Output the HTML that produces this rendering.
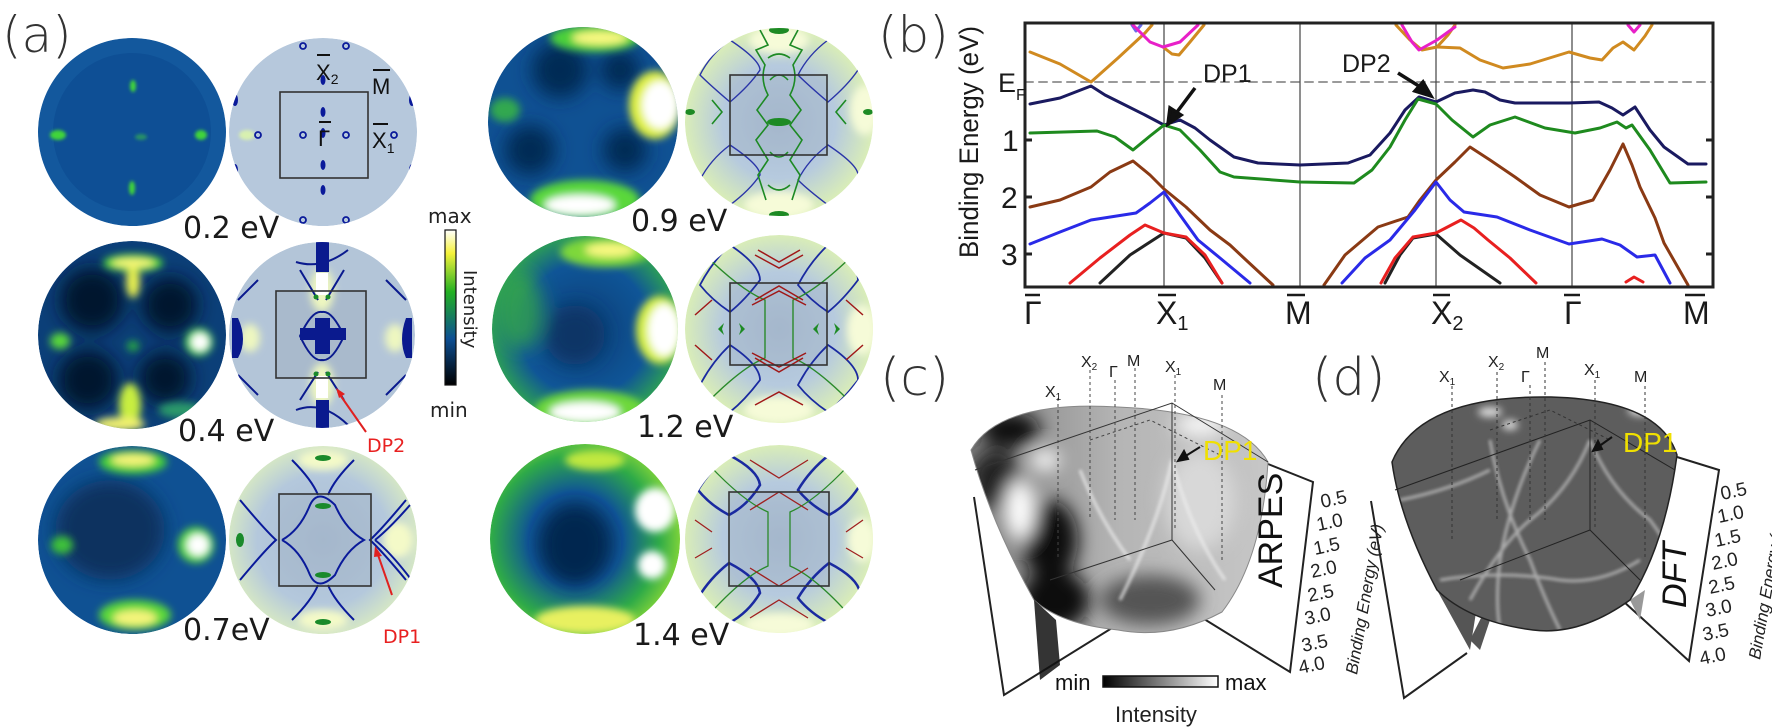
<!DOCTYPE html>
<html><head><meta charset="utf-8"><style>
html,body{margin:0;padding:0;background:#fff;}
svg{display:block;}
.a{font-family:"DejaVu Sans","Liberation Sans",sans-serif;}
.b{font-family:"Liberation Sans",sans-serif;}
</style></head><body>
<svg width="1772" height="728" viewBox="0 0 1772 728" xmlns="http://www.w3.org/2000/svg">
<defs>
<filter id="bl4" x="-50%" y="-50%" width="200%" height="200%"><feGaussianBlur stdDeviation="4"/></filter>
<filter id="bl8" x="-50%" y="-50%" width="200%" height="200%"><feGaussianBlur stdDeviation="9"/></filter>
<filter id="bl2" x="-50%" y="-50%" width="200%" height="200%"><feGaussianBlur stdDeviation="1.5"/></filter>
<radialGradient id="dft" cx="50%" cy="50%" r="50%"><stop offset="0" stop-color="#a9bcd3"/><stop offset="0.7" stop-color="#b4c8dc"/><stop offset="1" stop-color="#d4e6c6"/></radialGradient>
<radialGradient id="dft2" cx="50%" cy="50%" r="50%"><stop offset="0" stop-color="#a9bcd3"/><stop offset="0.6" stop-color="#b6cade"/><stop offset="1" stop-color="#d9edb8"/></radialGradient>
<radialGradient id="arp" cx="50%" cy="50%" r="50%"><stop offset="0" stop-color="#0b3f78"/><stop offset="0.7" stop-color="#0f5597"/><stop offset="1" stop-color="#2a9a5a"/></radialGradient>
<radialGradient id="arp3" cx="45%" cy="50%" r="55%"><stop offset="0" stop-color="#082f5c"/><stop offset="0.45" stop-color="#0f5597"/><stop offset="0.8" stop-color="#2eaa48"/><stop offset="1" stop-color="#7cd23a"/></radialGradient>
<linearGradient id="cbar" x1="0" y1="1" x2="0" y2="0"><stop offset="0" stop-color="#000"/><stop offset="0.3" stop-color="#0d4f93"/><stop offset="0.6" stop-color="#22b022"/><stop offset="0.85" stop-color="#f5f23a"/><stop offset="1" stop-color="#fff"/></linearGradient>
<linearGradient id="gbar" x1="0" y1="0" x2="1" y2="0"><stop offset="0" stop-color="#000"/><stop offset="1" stop-color="#fff"/></linearGradient>
<linearGradient id="arpesg" x1="0" y1="0" x2="1" y2="0"><stop offset="0" stop-color="#7a7a7a"/><stop offset="0.5" stop-color="#b5b5b5"/><stop offset="1" stop-color="#c8c8c8"/></linearGradient>
<clipPath id="c1"><circle cx="132" cy="132" r="94"/></clipPath>
<clipPath id="c2"><circle cx="132" cy="335" r="94"/></clipPath>
<clipPath id="c3"><circle cx="132" cy="540" r="94"/></clipPath>
<clipPath id="d1"><circle cx="323" cy="132" r="94"/></clipPath>
<clipPath id="d2"><circle cx="322" cy="335" r="93"/></clipPath>
<clipPath id="d3"><circle cx="323" cy="540" r="94"/></clipPath>
<clipPath id="e1"><circle cx="583" cy="122" r="95"/></clipPath>
<clipPath id="e2"><circle cx="585" cy="329" r="93"/></clipPath>
<clipPath id="e3"><circle cx="585" cy="539" r="95"/></clipPath>
<clipPath id="f1"><circle cx="779" cy="122" r="94"/></clipPath>
<clipPath id="f2"><circle cx="779" cy="329" r="94"/></clipPath>
<clipPath id="f3"><circle cx="779" cy="539" r="94"/></clipPath>
<clipPath id="cupA"><path d="M971,450 Q1000,400 1118,407 Q1240,412 1268,462 Q1262,560 1222,612 Q1170,640 1118,630 Q1060,624 1034,600 Q990,520 971,450 Z"/></clipPath>
<clipPath id="cupD"><path d="M1392,462 Q1420,395 1551,397 Q1660,400 1677,455 Q1665,545 1630,600 Q1580,636 1533,630 Q1470,622 1437,590 Q1400,520 1392,462 Z"/></clipPath>
</defs>

<!-- ===== Panel (a) ===== -->
<text x="2" y="52" class="a" font-size="50" font-weight="200" fill="#333">(a)</text>

<!-- row1 left -->
<g clip-path="url(#c1)">
<circle cx="132" cy="132" r="94" fill="#0e4f95"/>
<circle cx="132" cy="132" r="94" fill="none" stroke="#1b66ab" stroke-width="30" opacity="0.4"/>
<g filter="url(#bl2)" fill="#3fd43a">
<ellipse cx="58" cy="135" rx="8" ry="5"/><ellipse cx="201" cy="135" rx="6" ry="5"/>
<ellipse cx="133" cy="86" rx="3" ry="6"/><ellipse cx="132" cy="188" rx="3" ry="7"/>
<ellipse cx="141" cy="137" rx="6" ry="3" opacity="0.5"/></g>
</g>
<!-- row2 left -->
<g clip-path="url(#c2)">
<circle cx="132" cy="335" r="94" fill="#0b3f78"/>
<g filter="url(#bl8)" fill="#03162e"><circle cx="92" cy="300" r="32"/><circle cx="170" cy="305" r="28"/><circle cx="88" cy="380" r="30"/><circle cx="165" cy="378" r="26"/></g>
<g filter="url(#bl4)">
<ellipse cx="133" cy="263" rx="30" ry="9" fill="#48d83a"/><ellipse cx="133" cy="263" rx="22" ry="5" fill="#f6f47a"/>
<ellipse cx="133" cy="282" rx="7" ry="16" fill="#e8f050"/>
<circle cx="199" cy="342" r="14" fill="#4cd63a"/><circle cx="200" cy="342" r="9" fill="#fff"/>
<ellipse cx="60" cy="341" rx="10" ry="8" fill="#5ad83a"/>
<ellipse cx="130" cy="405" rx="11" ry="22" fill="#c8ee40"/><ellipse cx="120" cy="424" rx="25" ry="7" fill="#f0f070"/>
<ellipse cx="180" cy="410" rx="22" ry="8" fill="#2c9a6a"/>
<ellipse cx="133" cy="346" rx="6" ry="5" fill="#2ab040"/></g>
</g>
<!-- row3 left -->
<g clip-path="url(#c3)">
<circle cx="132" cy="540" r="94" fill="#0f5193"/>
<g filter="url(#bl8)"><ellipse cx="110" cy="530" rx="55" ry="50" fill="#07305e"/></g>
<g filter="url(#bl4)">
<ellipse cx="133" cy="462" rx="34" ry="12" fill="#44d03a"/><ellipse cx="133" cy="460" rx="22" ry="6" fill="#f6f47a"/>
<circle cx="196" cy="545" r="18" fill="#5ad83a"/><circle cx="198" cy="545" r="11" fill="#fff"/>
<ellipse cx="135" cy="615" rx="36" ry="15" fill="#5ad83a"/><ellipse cx="135" cy="618" rx="22" ry="8" fill="#f4f47a"/>
<ellipse cx="62" cy="545" rx="11" ry="9" fill="#3cc03a"/></g>
</g>

<!-- DFT circles col 2 -->
<g clip-path="url(#d1)">
<circle cx="323" cy="132" r="94" fill="#b6c8dc"/>
<ellipse cx="247" cy="135" rx="8" ry="5" fill="#d8f0b0" filter="url(#bl2)"/>
<rect x="280" y="92" width="88" height="86" fill="none" stroke="#333" stroke-width="1.6"/>
<g fill="#0a1a9a"><ellipse cx="323" cy="112" rx="2.5" ry="5"/><ellipse cx="323" cy="133" rx="2.5" ry="5"/><ellipse cx="323" cy="165" rx="2.5" ry="5"/><ellipse cx="323" cy="190" rx="2.5" ry="5"/><ellipse cx="323" cy="80" rx="2.5" ry="5"/>
<ellipse cx="235" cy="100" rx="3" ry="6"/><ellipse cx="235" cy="170" rx="3" ry="6"/><ellipse cx="412" cy="100" rx="3" ry="6"/><ellipse cx="412" cy="170" rx="3" ry="6"/></g>
<g fill="none" stroke="#0a1a9a" stroke-width="1.8"><circle cx="303" cy="135" r="3"/><circle cx="346" cy="135" r="3"/><circle cx="258" cy="135" r="3"/><circle cx="394" cy="135" r="3"/><circle cx="303" cy="46" r="3"/><circle cx="346" cy="46" r="3"/><circle cx="303" cy="220" r="3"/><circle cx="346" cy="220" r="3"/></g>
</g>
<g class="b" font-family="Liberation Serif,serif" fill="#111">
<text x="316" y="80" font-size="22">X<tspan font-size="14" dy="4">2</tspan></text><line x1="317" y1="55" x2="330" y2="55" stroke="#111" stroke-width="2"/>
<text x="372" y="94" font-size="22">M</text><line x1="373" y1="70" x2="390" y2="70" stroke="#111" stroke-width="2"/>
<text x="318" y="146" font-size="22">Γ</text><line x1="319" y1="122" x2="331" y2="122" stroke="#111" stroke-width="2"/>
<text x="372" y="148" font-size="22">X<tspan font-size="14" dy="5">1</tspan></text><line x1="373" y1="124" x2="388" y2="124" stroke="#111" stroke-width="2"/>
</g>

<g clip-path="url(#d2)">
<circle cx="322" cy="335" r="93" fill="#b3c5d8"/>
<rect x="276" y="291" width="90" height="87" fill="#9fb0c0" opacity="0.5"/>
<g filter="url(#bl4)" fill="#eef7c0"><ellipse cx="322" cy="290" rx="12" ry="22"/><ellipse cx="322" cy="385" rx="12" ry="22"/><ellipse cx="250" cy="338" rx="10" ry="14"/><ellipse cx="395" cy="338" rx="10" ry="14"/></g>
<g fill="#fff"><rect x="316" y="273" width="12" height="22"/><rect x="316" y="376" width="12" height="22"/></g>
<g fill="#0a1a8e"><rect x="316" y="240" width="13" height="32"/><rect x="316" y="400" width="13" height="40"/>
<rect x="315" y="318" width="15" height="36"/><rect x="300" y="328" width="46" height="12"/>
<path d="M238,318 Q248,340 238,358 L232,358 L232,318 Z"/><path d="M406,318 Q398,340 406,358 L412,358 L412,318 Z"/></g>
<g fill="none" stroke="#0a1a8e" stroke-width="2">
<path d="M300,336 Q312,310 322,312 Q332,310 344,336 Q332,362 322,360 Q312,362 300,336 Z"/>
<path d="M300,270 L318,300 M344,270 L326,300 M300,400 L318,372 M344,400 L326,372"/>
<path d="M296,262 Q322,270 348,250 M296,410 Q322,400 348,425"/>
<path d="M238,300 L258,280 M238,375 L258,395 M406,300 L386,280 M406,375 L386,395"/></g>
<g fill="#1a8a2a"><circle cx="316" cy="297" r="2.5"/><circle cx="328" cy="297" r="2.5"/><circle cx="316" cy="374" r="2.5"/><circle cx="328" cy="374" r="2.5"/></g>
<rect x="276" y="291" width="90" height="87" fill="none" stroke="#333" stroke-width="1.6"/>
</g>
<line x1="338" y1="392" x2="366" y2="432" stroke="#e02020" stroke-width="2"/><path d="M336,388 L345,394 L339,398 Z" fill="#e02020"/>
<text x="367" y="452" class="a" font-size="19" fill="#e82020">DP2</text>

<g clip-path="url(#d3)">
<circle cx="323" cy="540" r="94" fill="url(#dft)"/>
<g filter="url(#bl4)" fill="#f4fac8"><ellipse cx="323" cy="460" rx="25" ry="10"/><ellipse cx="323" cy="620" rx="25" ry="10"/><ellipse cx="398" cy="540" rx="15" ry="18"/></g>
<rect x="279" y="494" width="92" height="92" fill="#9fb0c0" opacity="0.35"/>
<g fill="none" stroke="#0a1a9a" stroke-width="2">
<path d="M282,540 Q300,530 310,505 Q318,488 335,505 Q346,530 364,540 Q346,550 335,575 Q318,592 310,575 Q300,550 282,540"/>
<path d="M292,460 Q312,480 318,495 M354,460 Q334,480 328,495 M292,620 Q312,600 318,585 M354,620 Q334,600 328,585"/>
<path d="M240,500 Q265,530 276,540 Q265,550 240,580 M406,500 Q381,530 370,540 Q381,550 406,580"/>
<path d="M375,540 Q390,528 410,505 M375,540 Q390,552 410,578"/></g>
<g fill="#1a8a2a"><ellipse cx="323" cy="506" rx="8" ry="3"/><ellipse cx="323" cy="575" rx="8" ry="3"/><ellipse cx="323" cy="458" rx="8" ry="3"/><ellipse cx="323" cy="622" rx="8" ry="3"/><ellipse cx="240" cy="540" rx="4" ry="7"/></g>
<rect x="279" y="494" width="92" height="92" fill="none" stroke="#333" stroke-width="1.6"/>
</g>
<line x1="377" y1="552" x2="392" y2="595" stroke="#e02020" stroke-width="2"/><path d="M375,546 L382,556 L374,557 Z" fill="#e02020"/>
<text x="383" y="643" class="a" font-size="19" fill="#e82020">DP1</text>

<!-- labels -->
<g class="a" font-size="30" fill="#1a1a1a">
<text x="183" y="238">0.2 eV</text>
<text x="178" y="441">0.4 eV</text>
<text x="183" y="640">0.7eV</text>
<text x="631" y="231">0.9 eV</text>
<text x="637" y="437">1.2 eV</text>
<text x="633" y="645">1.4 eV</text>
</g>

<!-- colorbar -->
<rect x="445" y="230" width="11" height="155" fill="url(#cbar)" stroke="#111" stroke-width="1.2"/>
<text x="428" y="223" class="a" font-size="20" fill="#222">max</text>
<text x="430" y="417" class="a" font-size="20" fill="#222">min</text>
<text transform="translate(464,270) rotate(90)" class="a" font-size="18" fill="#222">Intensity</text>

<!-- col3 ARPES -->
<g clip-path="url(#e1)">
<circle cx="583" cy="122" r="95" fill="#0f5193"/>
<g filter="url(#bl8)" fill="#062a55"><circle cx="560" cy="70" r="28"/><circle cx="530" cy="150" r="25"/><circle cx="625" cy="150" r="22"/><circle cx="620" cy="70" r="20"/></g>
<g filter="url(#bl4)">
<ellipse cx="595" cy="38" rx="45" ry="14" fill="#4cd03a"/><ellipse cx="600" cy="38" rx="28" ry="7" fill="#f8f880"/>
<ellipse cx="655" cy="105" rx="26" ry="34" fill="#e0f040"/><ellipse cx="660" cy="105" rx="18" ry="24" fill="#fff"/>
<ellipse cx="585" cy="200" rx="55" ry="20" fill="#5ad83a"/><ellipse cx="580" cy="205" rx="35" ry="10" fill="#fff"/>
<ellipse cx="505" cy="110" rx="15" ry="12" fill="#30a850"/></g>
</g>
<g clip-path="url(#e2)">
<circle cx="585" cy="329" r="93" fill="url(#arp)"/>
<g filter="url(#bl8)"><circle cx="575" cy="335" r="30" fill="#083566"/><ellipse cx="520" cy="310" rx="22" ry="40" fill="#38b040" opacity="0.7"/></g>
<g filter="url(#bl4)">
<ellipse cx="605" cy="252" rx="45" ry="15" fill="#7ed83a"/><ellipse cx="610" cy="250" rx="25" ry="7" fill="#f8f880"/>
<ellipse cx="660" cy="330" rx="24" ry="34" fill="#d8f040"/><ellipse cx="664" cy="330" rx="16" ry="26" fill="#fff"/>
<ellipse cx="590" cy="410" rx="55" ry="20" fill="#6ed83a"/><ellipse cx="585" cy="412" rx="35" ry="10" fill="#fff"/></g>
</g>
<g clip-path="url(#e3)">
<circle cx="585" cy="539" r="95" fill="url(#arp3)"/>
<g filter="url(#bl8)"><ellipse cx="575" cy="545" rx="35" ry="40" fill="#06284f"/></g>
<g filter="url(#bl4)">
<ellipse cx="655" cy="510" rx="20" ry="22" fill="#fff"/><ellipse cx="652" cy="565" rx="14" ry="14" fill="#fff"/>
<ellipse cx="585" cy="620" rx="50" ry="14" fill="#e8f060"/><ellipse cx="595" cy="460" rx="30" ry="10" fill="#c0e840"/></g>
</g>

<!-- col4 DFT -->
<g clip-path="url(#f1)">
<circle cx="779" cy="122" r="94" fill="url(#dft2)"/>
<g filter="url(#bl4)" fill="#f6fbd8"><ellipse cx="779" cy="40" rx="30" ry="14"/><ellipse cx="779" cy="205" rx="35" ry="14"/><ellipse cx="865" cy="110" rx="15" ry="25"/></g>
<rect x="730" y="75" width="97" height="80" fill="#9fb0c0" opacity="0.35"/>
<g fill="none" stroke="#2a35a8" stroke-width="1.4">
<path d="M730,40 Q760,60 760,70 Q750,85 730,102 Q710,85 700,75 Q710,55 730,40 Z"/>
<path d="M828,40 Q858,60 858,70 Q848,85 828,102 Q808,85 798,75 Q808,55 828,40 Z"/>
<path d="M730,145 Q760,165 760,175 Q750,190 730,205 Q710,190 700,180 Q710,160 730,145 Z"/>
<path d="M828,145 Q858,165 858,175 Q848,190 828,205 Q808,190 798,180 Q808,160 828,145 Z"/>
</g>
<g fill="none" stroke="#1d8a24" stroke-width="1.6">
<path d="M760,30 L768,45 L756,50 L765,65 Q760,80 768,95 L757,110 L768,125 L756,140 L768,160 L758,175 L766,200"/>
<path d="M798,30 L790,45 L802,50 L793,65 Q798,80 790,95 L801,110 L790,125 L802,140 L790,160 L800,175 L792,200"/>
<path d="M712,100 L722,112 L712,124 M846,100 L836,112 L846,124 M770,80 Q779,70 788,80 M770,152 Q779,162 788,152 M768,58 Q779,50 790,58 M768,185 Q779,195 790,185"/>
</g>
<g fill="#1d8a24"><ellipse cx="779" cy="122" rx="12" ry="4"/><ellipse cx="779" cy="30" rx="10" ry="4"/><ellipse cx="779" cy="215" rx="10" ry="4"/><ellipse cx="690" cy="112" rx="5" ry="3"/><ellipse cx="868" cy="112" rx="5" ry="3"/></g>
<rect x="730" y="75" width="97" height="80" fill="none" stroke="#333" stroke-width="1.6"/>
</g>
<g clip-path="url(#f2)">
<circle cx="779" cy="329" r="94" fill="url(#dft2)"/>
<g filter="url(#bl4)" fill="#f6fbd8"><ellipse cx="779" cy="410" rx="35" ry="14"/><ellipse cx="862" cy="330" rx="15" ry="25"/></g>
<rect x="730" y="283" width="97" height="82" fill="#9fb0c0" opacity="0.35"/>
<g fill="none" stroke="#1a2aa0" stroke-width="1.8">
<path d="M730,245 Q760,265 760,280 Q745,300 730,312 Q712,300 700,285 Q712,262 730,245 Z"/>
<path d="M828,245 Q858,265 858,280 Q843,300 828,312 Q810,300 798,285 Q810,262 828,245 Z"/>
<path d="M730,345 Q760,365 760,380 Q745,400 730,412 Q712,400 700,385 Q712,362 730,345 Z"/>
<path d="M828,345 Q858,365 858,380 Q843,400 828,412 Q810,400 798,385 Q810,362 828,345 Z"/></g>
<g fill="none" stroke="#2a8a2a" stroke-width="1.4">
<path d="M700,250 Q740,290 765,300 Q765,329 765,358 Q740,368 700,410"/>
<path d="M858,250 Q818,290 793,300 Q793,329 793,358 Q818,368 858,410"/></g>
<g fill="none" stroke="#a01818" stroke-width="1.5">
<path d="M755,255 L779,268 L803,255 M758,250 L779,262 L800,250"/>
<path d="M755,300 L779,286 L803,300 M752,305 L779,291 L806,305"/>
<path d="M755,358 L779,372 L803,358 M752,353 L779,367 L806,353"/>
<path d="M755,405 L779,392 L803,405"/>
<path d="M695,315 L712,300 M695,345 L712,360 M863,315 L846,300 M863,345 L846,360"/></g>
<g fill="#1d8a24"><path d="M745,329 l-6,-6 l2,6 l-2,6 Z"/><path d="M813,329 l6,-6 l-2,6 l2,6 Z"/><path d="M718,329 l6,-6 l-2,6 l2,6 Z"/><path d="M840,329 l-6,-6 l2,6 l-2,6 Z"/></g>
<rect x="730" y="283" width="97" height="82" fill="none" stroke="#333" stroke-width="1.6"/>
</g>
<g clip-path="url(#f3)">
<circle cx="779" cy="539" r="94" fill="url(#dft2)"/>
<g filter="url(#bl4)" fill="#f6fbd8"><ellipse cx="779" cy="625" rx="35" ry="12"/><ellipse cx="862" cy="540" rx="14" ry="22"/></g>
<rect x="729" y="492" width="100" height="94" fill="#9fb0c0" opacity="0.35"/>
<g fill="none" stroke="#1a2aa0" stroke-width="2.6">
<path d="M729,455 Q758,470 760,485 Q748,505 729,515 Q710,505 698,490 Q710,470 729,455 Z"/>
<path d="M829,455 Q858,470 860,485 Q848,505 829,515 Q810,505 798,490 Q810,470 829,455 Z"/>
<path d="M729,563 Q758,578 760,593 Q748,613 729,623 Q710,613 698,598 Q710,578 729,563 Z"/>
<path d="M829,563 Q858,578 860,593 Q848,613 829,623 Q810,613 798,598 Q810,578 829,563 Z"/></g>
<g fill="none" stroke="#2a8a2a" stroke-width="1.3">
<path d="M700,455 Q740,500 768,512 Q768,539 768,566 Q740,578 700,625"/>
<path d="M858,455 Q818,500 790,512 Q790,539 790,566 Q818,578 858,625"/></g>
<g fill="none" stroke="#a02020" stroke-width="1.3">
<path d="M750,460 L779,478 L808,460 M750,510 L779,492 L808,510 M750,568 L779,586 L808,568 M750,618 L779,600 L808,618"/>
<path d="M695,520 L712,532 M695,558 L712,548 M863,520 L846,532 M863,558 L846,548"/></g>
<rect x="729" y="492" width="100" height="94" fill="none" stroke="#333" stroke-width="1.6"/>
</g>

<!-- ===== Panel (b) ===== -->
<text x="878" y="52" class="a" font-size="50" font-weight="200" fill="#333">(b)</text>
<g fill="none" stroke-linejoin="round" stroke-linecap="round">
<line x1="1025" y1="82" x2="1713" y2="82" stroke="#9a9a9a" stroke-width="2" stroke-dasharray="8,6"/>
<g stroke="#444" stroke-width="1.2"><line x1="1164" y1="23" x2="1164" y2="287"/><line x1="1300" y1="23" x2="1300" y2="287"/><line x1="1436" y1="23" x2="1436" y2="287"/><line x1="1572" y1="23" x2="1572" y2="287"/></g>
<g stroke-width="3">
<polyline stroke="#6a6ae8" points="1132,25 1136,31 1141,25"/>
<polyline stroke="#d08a20" points="1030,52 1060,64 1091,82 1118,58 1145,33 1152,25"/>
<polyline stroke="#d08a20" points="1163,47 1172,54 1179,55 1190,42 1204,25"/>
<polyline stroke="#d08a20" points="1396,25 1410,40 1422,50 1437,47 1448,35 1455,25"/>
<polyline stroke="#d08a20" points="1437,47 1460,48 1480,60 1503,68 1530,64 1569,52 1590,58 1602,60 1613,48 1623,42 1634,50 1645,36 1652,25"/>
<polyline stroke="#e820c8" points="1133,25 1150,42 1163,47 1180,42 1198,25"/>
<polyline stroke="#e820c8" points="1402,25 1412,42 1419,50 1437,40 1455,27"/>
<polyline stroke="#e820c8" points="1628,25 1634,32 1640,25"/>
<polyline stroke="#1a1a60" points="1030,104 1060,98 1091,86 1105,95 1121,103 1145,115 1164,125 1180,120 1195,128 1210,140 1234,157 1258,163 1300,165 1348,163 1370,155 1390,133 1405,110 1419,97 1436,102 1455,93 1473,90 1485,92 1500,100 1515,103 1569,103 1599,102 1612,108 1623,115 1635,107 1650,130 1664,147 1688,164 1706,164"/>
<polyline stroke="#1e8a1e" points="1030,133 1097,131 1115,137 1133,150 1150,136 1164,125 1180,130 1200,150 1220,172 1234,177 1300,182 1354,183 1372,170 1390,147 1405,120 1418,99 1436,104 1452,120 1473,137 1490,125 1515,117 1545,128 1575,133 1600,128 1617,122 1626,128 1632,125 1650,150 1670,183 1706,182"/>
<polyline stroke="#8a3a14" points="1030,207 1060,200 1091,187 1110,172 1133,161 1150,175 1164,189 1186,207 1210,230 1230,245 1246,260 1273,285"/>
<polyline stroke="#8a3a14" points="1324,285 1345,255 1378,227 1408,217 1420,200 1436,180 1455,162 1470,147 1490,160 1515,177 1540,195 1569,207 1593,200 1610,170 1623,144 1632,165 1640,187 1655,218 1664,243 1688,285"/>
<polyline stroke="#2a2ae8" points="1030,244 1060,232 1091,220 1136,213 1150,203 1164,192 1180,215 1198,240 1220,258 1250,283"/>
<polyline stroke="#2a2ae8" points="1342,283 1365,258 1390,240 1415,210 1436,182 1450,200 1464,212 1497,217 1530,230 1569,244 1602,239 1620,245 1637,257 1655,255 1670,283"/>
<polyline stroke="#222" points="1100,283 1130,255 1164,233 1186,238 1205,258 1222,283"/>
<polyline stroke="#222" points="1385,283 1400,255 1413,238 1436,234 1460,255 1500,283"/>
<polyline stroke="#e82020" points="1070,283 1100,258 1130,235 1145,225 1164,233 1186,237 1205,255 1222,283"/>
<polyline stroke="#e82020" points="1381,283 1395,258 1413,237 1436,233 1461,220 1474,228 1488,240 1510,258 1536,283"/>
<polyline stroke="#e82020" points="1626,282 1634,277 1643,282"/>
</g>
</g>
<rect x="1025" y="23" width="688" height="264" fill="none" stroke="#222" stroke-width="3"/>
<g stroke="#222" stroke-width="3"><line x1="1025" y1="140" x2="1032" y2="140"/><line x1="1025" y1="197" x2="1032" y2="197"/><line x1="1025" y1="254" x2="1032" y2="254"/><line x1="1706" y1="140" x2="1713" y2="140"/><line x1="1706" y1="197" x2="1713" y2="197"/><line x1="1706" y1="254" x2="1713" y2="254"/></g>
<g class="b" fill="#1a1a1a">
<text x="998" y="92" font-size="27">E<tspan font-size="16" dy="8">F</tspan></text>
<text x="1002" y="151" font-size="30">1</text>
<text x="1001" y="208" font-size="30">2</text>
<text x="1001" y="265" font-size="30">3</text>
<text transform="translate(978,258) rotate(-90)" font-size="27" textLength="232" lengthAdjust="spacingAndGlyphs">Binding Energy (eV)</text>
<text x="1203" y="82" font-size="25">DP1</text>
<text x="1342" y="72" font-size="25">DP2</text>
<text x="1024" y="324" font-size="32">Γ</text>
<text x="1156" y="324" font-size="32">X<tspan font-size="20" dy="6">1</tspan></text>
<text x="1285" y="324" font-size="32">M</text>
<text x="1431" y="324" font-size="32">X<tspan font-size="20" dy="6">2</tspan></text>
<text x="1564" y="324" font-size="32">Γ</text>
<text x="1683" y="324" font-size="32">M</text>
</g>
<g stroke="#1a1a1a" stroke-width="2.5"><line x1="1025" y1="295" x2="1040" y2="295"/><line x1="1158" y1="295" x2="1176" y2="295"/><line x1="1287" y1="295" x2="1305" y2="295"/><line x1="1433" y1="295" x2="1450" y2="295"/><line x1="1564" y1="295" x2="1580" y2="295"/><line x1="1685" y1="295" x2="1705" y2="295"/></g>
<g stroke="#111" stroke-width="3.5" fill="#111"><line x1="1195" y1="88" x2="1174" y2="116"/><path d="M1168,124 L1170,108 L1181,115 Z"/><line x1="1398" y1="73" x2="1422" y2="88"/><path d="M1431,96 L1415,91 L1423,82 Z"/></g>

<!-- ===== Panel (c) ===== -->
<text x="880" y="395" class="a" font-size="52" font-weight="200" fill="#333">(c)</text>
<g fill="none" stroke="#222" stroke-width="2">
<path d="M974,497 L1004,695 L1112,628"/>
<path d="M1268,464 L1313,482 L1290,672 L1196,614"/></g>
<g clip-path="url(#cupA)">
<rect x="960" y="395" width="320" height="245" fill="url(#arpesg)"/>
<g filter="url(#bl8)">
<ellipse cx="1010" cy="430" rx="30" ry="18" fill="#111"/><ellipse cx="995" cy="480" rx="25" ry="30" fill="#222"/>
<ellipse cx="1050" cy="540" rx="28" ry="40" fill="#0a0a0a"/><ellipse cx="1055" cy="600" rx="35" ry="30" fill="#111"/>
<ellipse cx="1020" cy="510" rx="15" ry="30" fill="#fff"/><ellipse cx="1045" cy="460" rx="15" ry="10" fill="#fff"/>
<ellipse cx="1200" cy="425" rx="25" ry="10" fill="#fff"/><ellipse cx="1150" cy="600" rx="50" ry="25" fill="#555"/>
<ellipse cx="1200" cy="500" rx="35" ry="50" fill="#d8d8d8"/></g>
<g fill="none" stroke="#eee" stroke-width="3" opacity="0.8" filter="url(#bl2)"><path d="M1172,460 Q1160,520 1120,600 M1172,460 Q1190,530 1225,580 M1080,470 Q1100,520 1130,560"/></g>
</g>
<path d="M971,450 Q1000,400 1118,407 Q1240,412 1268,462 Q1262,560 1222,612 Q1170,640 1118,630 Q1060,624 1034,600 Q990,520 971,450 Z" fill="none" stroke="#888" stroke-width="1"/>
<path d="M1034,600 L1040,680 L1060,665 L1056,620 Z" fill="#111" opacity="0.85"/>
<g fill="none" stroke="#333" stroke-width="1"><path d="M975,470 L1172,403 L1268,462"/><path d="M1050,580 L1172,540 L1215,590"/><line x1="1172" y1="403" x2="1172" y2="540"/></g>
<g fill="none" stroke="#444" stroke-width="1" stroke-dasharray="3,3"><path d="M1058,398 L1058,560 M1090,370 L1090,520 M1115,380 L1115,520 M1135,368 L1135,520 M1175,375 L1175,530 M1222,395 L1222,560 M1090,440 L1150,420 L1220,455"/></g>
<g class="b" font-size="16" fill="#222">
<text x="1045" y="397">X<tspan font-size="10" dy="3">1</tspan></text>
<text x="1081" y="367">X<tspan font-size="10" dy="3">2</tspan></text>
<text x="1109" y="377">Γ</text>
<text x="1127" y="366">M</text>
<text x="1165" y="372">X<tspan font-size="10" dy="3">1</tspan></text>
<text x="1213" y="390">M</text>
</g>
<text x="1203" y="460" class="b" font-size="28" fill="#f0e000">DP1</text>
<g stroke="#111" stroke-width="2" fill="#111"><line x1="1200" y1="447" x2="1184" y2="457"/><path d="M1178,461 L1184,451 L1188,459 Z"/></g>
<text transform="translate(1282,588) rotate(-90)" class="b" font-size="34" fill="#111">ARPES</text>
<g class="b" font-size="19" fill="#222">
<text x="1322" y="508" transform="rotate(-12 1322 508)">0.5</text>
<text x="1318" y="531" transform="rotate(-12 1318 531)">1.0</text>
<text x="1315" y="555" transform="rotate(-12 1315 555)">1.5</text>
<text x="1312" y="578" transform="rotate(-12 1312 578)">2.0</text>
<text x="1309" y="602" transform="rotate(-12 1309 602)">2.5</text>
<text x="1306" y="625" transform="rotate(-12 1306 625)">3.0</text>
<text x="1303" y="652" transform="rotate(-12 1303 652)">3.5</text>
<text x="1300" y="674" transform="rotate(-12 1300 674)">4.0</text>
<text transform="translate(1357,675) rotate(-80)" font-size="17" font-style="italic">Binding Energy (eV)</text>
</g>
<text x="1055" y="690" class="b" font-size="22" fill="#111">min</text>
<rect x="1103" y="676" width="115" height="11" fill="url(#gbar)" stroke="#111" stroke-width="1.5"/>
<text x="1225" y="690" class="b" font-size="22" fill="#111">max</text>
<text x="1115" y="722" class="b" font-size="22" fill="#222">Intensity</text>

<!-- ===== Panel (d) ===== -->
<text x="1312" y="395" class="a" font-size="52" font-weight="200" fill="#333">(d)</text>
<path d="M1371,501 L1404,698 L1467,653" fill="none" stroke="#222" stroke-width="2"/>
<path d="M1470,640 L1510,560 L1480,650 Z" fill="#555"/>
<path d="M1437,590 L1470,650 L1478,600 Z" fill="#555"/>
<path d="M1677,457 L1719,470 L1689,661 L1623,601" fill="none" stroke="#222" stroke-width="2"/>
<path d="M1630,600 L1645,590 L1640,620 Z" fill="#999"/>
<g clip-path="url(#cupD)">
<rect x="1380" y="390" width="310" height="250" fill="#5d5d5d"/>
<g fill="none" stroke="#bcbcbc" stroke-width="3" opacity="0.85" filter="url(#bl2)">
<path d="M1590,440 Q1570,490 1530,520 Q1500,545 1470,600"/>
<path d="M1590,440 Q1610,490 1650,520 Q1665,540 1675,560"/>
<path d="M1540,440 Q1510,500 1500,560 Q1495,600 1500,630"/>
<path d="M1490,440 Q1500,500 1530,560 Q1545,600 1560,630"/>
<path d="M1440,580 Q1500,570 1560,580 Q1600,585 1640,560"/>
<path d="M1400,500 Q1450,490 1490,470"/>
</g>
<g filter="url(#bl4)" fill="#ddd"><ellipse cx="1490" cy="412" rx="12" ry="5"/><ellipse cx="1640" cy="410" rx="12" ry="6"/><ellipse cx="1510" cy="425" rx="8" ry="5"/></g>
</g>
<path d="M1392,462 Q1420,395 1551,397 Q1660,400 1677,455 Q1665,545 1630,600 Q1580,636 1533,630 Q1470,622 1437,590 Q1400,520 1392,462 Z" fill="none" stroke="#222" stroke-width="1.5"/>
<g fill="none" stroke="#222" stroke-width="1"><path d="M1395,490 L1590,420 L1675,470"/><path d="M1460,580 L1590,530 L1640,580"/><line x1="1590" y1="420" x2="1590" y2="530"/></g>
<g fill="none" stroke="#333" stroke-width="1" stroke-dasharray="3,3"><path d="M1452,386 L1452,540 M1497,372 L1497,520 M1530,385 L1530,520 M1545,362 L1545,520 M1595,380 L1595,530 M1645,386 L1645,560 M1490,430 L1550,410 L1610,440"/></g>
<g class="b" font-size="16" fill="#222">
<text x="1439" y="382">X<tspan font-size="10" dy="3">1</tspan></text>
<text x="1488" y="367">X<tspan font-size="10" dy="3">2</tspan></text>
<text x="1521" y="382">Γ</text>
<text x="1536" y="358">M</text>
<text x="1584" y="375">X<tspan font-size="10" dy="3">1</tspan></text>
<text x="1634" y="382">M</text>
</g>
<text x="1623" y="452" class="b" font-size="28" fill="#f0e000">DP1</text>
<g stroke="#111" stroke-width="2" fill="#111"><line x1="1612" y1="437" x2="1598" y2="447"/><path d="M1593,451 L1598,441 L1602,449 Z"/></g>
<text transform="translate(1686,608) rotate(-90)" class="b" font-size="34" font-style="italic" fill="#111">DFT</text>
<g class="b" font-size="19" fill="#222">
<text x="1722" y="500" transform="rotate(-12 1722 500)">0.5</text>
<text x="1719" y="523" transform="rotate(-12 1719 523)">1.0</text>
<text x="1716" y="547" transform="rotate(-12 1716 547)">1.5</text>
<text x="1713" y="570" transform="rotate(-12 1713 570)">2.0</text>
<text x="1710" y="594" transform="rotate(-12 1710 594)">2.5</text>
<text x="1707" y="617" transform="rotate(-12 1707 617)">3.0</text>
<text x="1704" y="641" transform="rotate(-12 1704 641)">3.5</text>
<text x="1701" y="665" transform="rotate(-12 1701 665)">4.0</text>
<text transform="translate(1760,660) rotate(-80)" font-size="17" font-style="italic">Binding Energy (eV)</text>
</g>
</svg>
</body></html>
